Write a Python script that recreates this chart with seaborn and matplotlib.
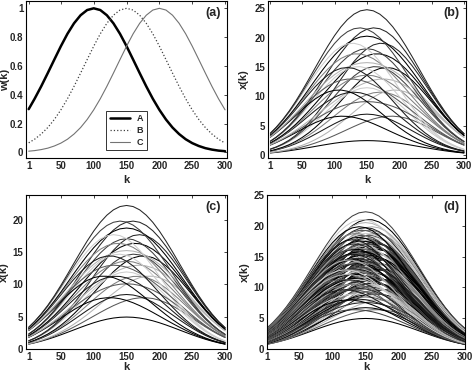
import itertools
import matplotlib
matplotlib.use('Agg')
import pandas as pd
import matplotlib.pyplot as plt
import seaborn as sns

k = [1, 10, 20, 30, 40, 50, 60, 70, 80, 90, 100, 110, 120, 130, 140, 150,
     160, 170, 180, 190, 200, 210, 220, 230, 240, 250, 260, 270, 280, 290, 300]

# panel (a): the three profiles w(k)
w_A = [0.30, 0.372, 0.458, 0.550, 0.644, 0.737, 0.823, 0.896, 0.952, 0.988, 1.0,
       0.988, 0.952, 0.896, 0.823, 0.737, 0.644, 0.550, 0.458, 0.372, 0.295,
       0.228, 0.172, 0.127, 0.091, 0.064, 0.044, 0.029, 0.019, 0.012, 0.008]
w_B = [0.066, 0.091, 0.127, 0.172, 0.228, 0.295, 0.372, 0.458, 0.550, 0.644, 0.737,
       0.823, 0.896, 0.952, 0.988, 1.0, 0.988, 0.952, 0.896, 0.823, 0.737,
       0.644, 0.550, 0.458, 0.372, 0.295, 0.228, 0.172, 0.127, 0.091, 0.064]
w_C = [0.008, 0.012, 0.019, 0.029, 0.044, 0.064, 0.091, 0.127, 0.172, 0.228, 0.295,
       0.372, 0.458, 0.550, 0.644, 0.737, 0.823, 0.896, 0.952, 0.988, 1.0,
       0.988, 0.952, 0.896, 0.823, 0.737, 0.644, 0.550, 0.458, 0.372, 0.295]

# mixing weight levels used for the x(k) curves in panels (b), (c), (d)
levels_b = [1, 5.5, 10]
levels_c = [2, 5.5, 9]
levels_d = [2, 3.75, 5.5, 7.25, 9]

xticks = [1, 50, 100, 150, 200, 250, 300]

grays = ['0.0', '0.35', '0.7', '0.1', '0.5', '0.0', '0.8', '0.25', '0.15']


def mix_frame(levels):
    rows = []
    for i, (a, b, c) in enumerate(itertools.product(levels, repeat=3)):
        for j, kk in enumerate(k):
            rows.append({'curve': i, 'k': kk,
                         'x': a * w_A[j] + b * w_B[j] + c * w_C[j]})
    return pd.DataFrame(rows)


sns.set_style('white')
plt.rcParams['font.family'] = ['Liberation Sans', 'DejaVu Sans']
plt.rcParams['font.weight'] = 'bold'
plt.rcParams['axes.labelweight'] = 'bold'

fig = plt.figure(figsize=(4.74, 3.72), dpi=100)
ax_a = fig.add_axes([0.055, 0.575, 0.424, 0.422])
ax_b = fig.add_axes([0.565, 0.575, 0.418, 0.422])
ax_c = fig.add_axes([0.055, 0.062, 0.424, 0.414])
ax_d = fig.add_axes([0.563, 0.062, 0.418, 0.414])

# (a)
df_a = pd.DataFrame({'k': k, 'A': w_A, 'B': w_B, 'C': w_C})
sns.lineplot(data=df_a, x='k', y='A', ax=ax_a, color='black', linewidth=1.8, label='A')
sns.lineplot(data=df_a, x='k', y='B', ax=ax_a, color='0.25', linewidth=0.9,
             linestyle=':', label='B')
sns.lineplot(data=df_a, x='k', y='C', ax=ax_a, color='0.45', linewidth=0.8, label='C')
ax_a.set_ylim(-0.04, 1.05)
ax_a.set_yticks([0, 0.2, 0.4, 0.6, 0.8, 1.0])
ax_a.set_yticklabels(['0', '0.2', '0.4', '0.6', '0.8', '1'])
ax_a.set_ylabel('w(k)', fontsize=8)
leg = ax_a.legend(loc='lower center', bbox_to_anchor=(0.5, 0.02), fontsize=6.5,
                  frameon=True, fancybox=False, edgecolor='black',
                  handlelength=2.2, borderpad=0.4, labelspacing=0.3)
leg.get_frame().set_linewidth(0.7)

# (b), (c), (d)
panels = [(ax_b, levels_b, (-0.5, 26.2), [0, 5, 10, 15, 20, 25]),
          (ax_c, levels_c, (0, 23.9), [0, 5, 10, 15, 20]),
          (ax_d, levels_d, (0, 25), [0, 5, 10, 15, 20, 25])]
for ax, levels, ylim, yt in panels:
    df = mix_frame(levels)
    n = df['curve'].nunique()
    pal = [grays[i % len(grays)] for i in range(n)]
    sns.lineplot(data=df, x='k', y='x', hue='curve', palette=pal, ax=ax,
                 linewidth=0.75, legend=False, errorbar=None)
    ax.set_ylim(*ylim)
    ax.set_yticks(yt)
    ax.set_ylabel('x(k)', fontsize=8)

ylab_x = {'(a)': -0.08, '(b)': -0.095, '(c)': -0.085, '(d)': -0.088}
xlab_y = {'(a)': -0.11, '(b)': -0.11, '(c)': -0.085, '(d)': -0.085}
for ax, lab in zip([ax_a, ax_b, ax_c, ax_d], ['(a)', '(b)', '(c)', '(d)']):
    if ax is ax_d:
        ax.set_xlim(1, 300)
    else:
        ax.set_xlim(-3, 303)
    ax.set_xticks(xticks)
    ax.set_xlabel('k', fontsize=8)
    ax.yaxis.set_label_coords(ylab_x[lab], 0.5)
    ax.xaxis.set_label_coords(0.5, xlab_y[lab])
    ax.tick_params(direction='in', top=True, right=True, length=2.5, width=0.6,
                   labelsize=7, pad=2)
    for s in ax.spines.values():
        s.set_color('black')
        s.set_linewidth(0.8)
    ax.text(0.97, 0.96, lab, transform=ax.transAxes, ha='right', va='top',
            fontsize=9, fontweight='bold')

fig.savefig('out.png', dpi=100)
